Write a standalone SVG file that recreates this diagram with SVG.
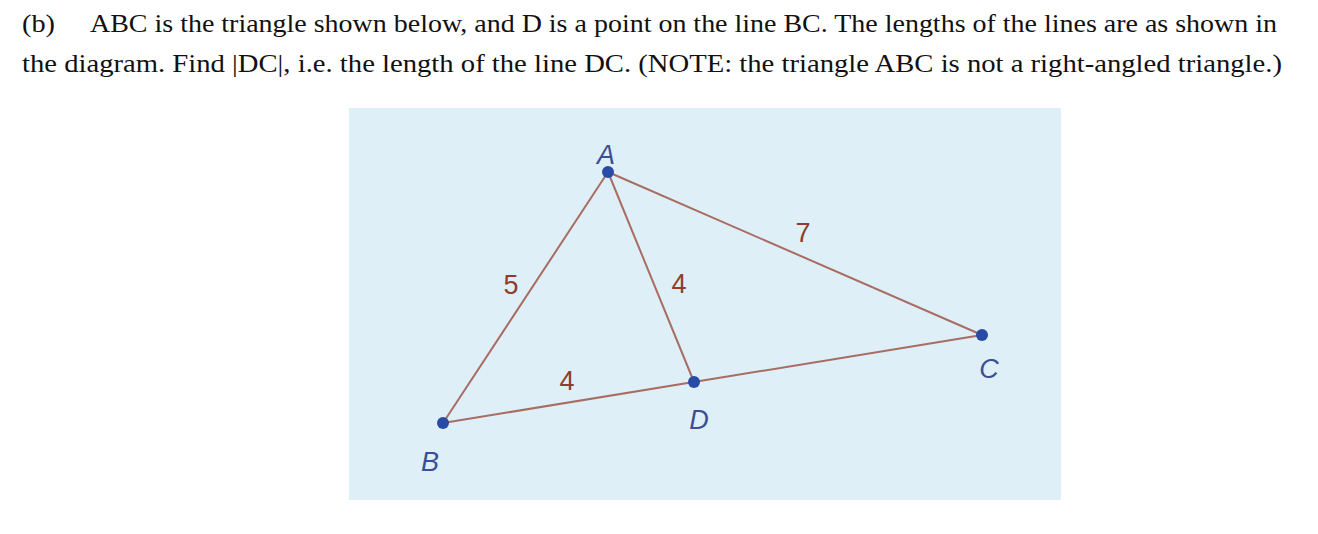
<svg xmlns="http://www.w3.org/2000/svg" width="1318" height="534" viewBox="0 0 1318 534">
<style>
.q{font-family:"Liberation Serif",serif;font-size:25px;fill:#111}
.pt{fill:#2a4aa8}
.lbl{font-family:"Liberation Sans",Arial,sans-serif;font-style:italic;font-size:27px;fill:#3b4f96;text-anchor:middle}
.num{font-family:"Liberation Sans",Arial,sans-serif;font-size:27px;fill:#8e3e2c;text-anchor:middle}
.seg{stroke:#a86d62;stroke-width:2;fill:none}
</style>
<rect width="1318" height="534" fill="#fff"/>
<text class="q" x="22" y="32" textLength="33" lengthAdjust="spacingAndGlyphs">(b)</text>
<text class="q" x="90" y="32" textLength="1187" lengthAdjust="spacingAndGlyphs">ABC is the triangle shown below, and D is a point on the line BC. The lengths of the lines are as shown in</text>
<text class="q" x="22" y="72" textLength="1260" lengthAdjust="spacingAndGlyphs">the diagram. Find |DC|, i.e. the length of the line DC. (NOTE: the triangle ABC is not a right-angled triangle.)</text>
<rect x="349" y="108" width="712" height="392" fill="#dfeff8"/>
<g id="connectors">
<line class="seg" x1="608" y1="172" x2="443" y2="423"/>
<line class="seg" x1="608" y1="172" x2="694" y2="382"/>
<line class="seg" x1="608" y1="172" x2="982" y2="335"/>
<line class="seg" x1="443" y1="423" x2="982" y2="335"/>
</g>
<g id="A"><circle class="pt" cx="608" cy="172" r="6"/><text class="lbl" x="606" y="164">A</text></g>
<g id="B"><circle class="pt" cx="443" cy="423" r="6"/><text class="lbl" x="430" y="471">B</text></g>
<g id="D"><circle class="pt" cx="694" cy="382" r="6"/><text class="lbl" x="699" y="429">D</text></g>
<g id="C"><circle class="pt" cx="982" cy="335" r="6"/><text class="lbl" x="989" y="378">C</text></g>
<g id="labels">
<text class="num" x="511" y="294">5</text>
<text class="num" x="679" y="293">4</text>
<text class="num" x="803" y="242">7</text>
<text class="num" x="567" y="390">4</text>
</g>
</svg>
